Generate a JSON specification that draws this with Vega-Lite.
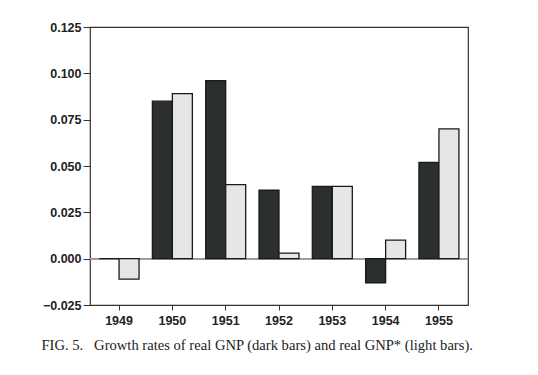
{
  "$schema": "https://vega.github.io/schema/vega-lite/v6.json",
  "width": 378,
  "height": 278,
  "autosize": "none",
  "padding": {"left": 90, "top": 27, "right": 70, "bottom": 70},
  "background": "white",
  "config": {
    "view": {"stroke": "#333333", "strokeWidth": 1.2},
    "axis": {"labelFont": "Liberation Sans", "labelFontWeight": "bold", "labelFontSize": 12.5, "labelColor": "#222222", "domainColor": "#333333", "tickColor": "#333333", "grid": false}
  },
  "title": {
    "text": "FIG. 5.\u00a0\u00a0\u00a0Growth rates of real GNP (dark bars) and real GNP* (light bars).",
    "orient": "bottom",
    "anchor": "start",
    "dx": -1,
    "offset": 11,
    "font": "Liberation Serif",
    "fontSize": 14.6,
    "fontWeight": "normal",
    "color": "#222222"
  },
  "data": {
    "values": [
      {"year": "1949", "series": "GNP", "rate": 0.0},
      {"year": "1949", "series": "GNP*", "rate": -0.011},
      {"year": "1950", "series": "GNP", "rate": 0.085},
      {"year": "1950", "series": "GNP*", "rate": 0.089},
      {"year": "1951", "series": "GNP", "rate": 0.096},
      {"year": "1951", "series": "GNP*", "rate": 0.040},
      {"year": "1952", "series": "GNP", "rate": 0.037},
      {"year": "1952", "series": "GNP*", "rate": 0.003},
      {"year": "1953", "series": "GNP", "rate": 0.039},
      {"year": "1953", "series": "GNP*", "rate": 0.039},
      {"year": "1954", "series": "GNP", "rate": -0.013},
      {"year": "1954", "series": "GNP*", "rate": 0.010},
      {"year": "1955", "series": "GNP", "rate": 0.052},
      {"year": "1955", "series": "GNP*", "rate": 0.070}
    ]
  },
  "layer": [
    {
      "mark": {"type": "rule", "color": "#999999", "strokeWidth": 1},
      "encoding": {"y": {"datum": 0, "type": "quantitative"}}
    },
    {
      "mark": {"type": "bar", "strokeWidth": 1.3, "stroke": "#1a1a1a"},
      "encoding": {
        "x": {
          "field": "year", "type": "nominal",
          "scale": {"paddingInner": 0.25, "paddingOuter": 0.17},
          "axis": {"title": null, "labelAngle": 0, "tickSize": 5, "labelPadding": 4, "domain": false}
        },
        "xOffset": {"field": "series", "type": "nominal", "scale": {"paddingInner": 0, "paddingOuter": 0}},
        "y": {
          "field": "rate", "type": "quantitative",
          "scale": {"domain": [-0.025, 0.125], "nice": false, "zero": false},
          "axis": {"title": null, "values": [-0.025, 0, 0.025, 0.05, 0.075, 0.1, 0.125], "format": ".3f", "tickSize": 7, "labelPadding": 2, "domain": false}
        },
        "fill": {
          "field": "series", "type": "nominal",
          "scale": {"domain": ["GNP", "GNP*"], "range": ["#2b302c", "#e6e6e4"]},
          "legend": null
        }
      }
    }
  ]
}
